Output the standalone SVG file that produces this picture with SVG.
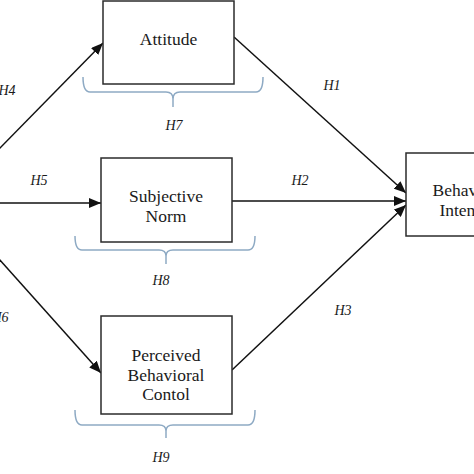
<svg xmlns="http://www.w3.org/2000/svg" width="474" height="474" viewBox="0 0 474 474">
<style>
.box{fill:#fff;stroke:#2b2b2b;stroke-width:1.5}
.nt{font-family:'Liberation Serif','DejaVu Serif',serif;font-size:17.5px;fill:#1a1a1a;text-anchor:middle}
.lb{font-family:'Liberation Serif','DejaVu Serif',serif;font-size:14px;font-style:italic;fill:#1a1a1a;text-anchor:middle}
.ar{fill:none;stroke:#111;stroke-width:1.5;marker-end:url(#ah)}
.br{fill:none;stroke:#8eaac4;stroke-width:1.5}
</style>
<defs>
<marker id="ah" viewBox="0 0 12 10" refX="12" refY="5" markerWidth="12" markerHeight="10" markerUnits="userSpaceOnUse" orient="auto">
<path d="M0,0 L12,5 L0,10 Z" fill="#111"/>
</marker>
</defs>
<rect width="474" height="474" fill="#fff"/>
<g id="connectors">
<line class="ar" x1="-2" y1="150" x2="103" y2="43"/>
<line class="ar" x1="-2" y1="203" x2="101" y2="203"/>
<line class="ar" x1="-2" y1="258" x2="101" y2="373"/>
<line class="ar" x1="234" y1="37" x2="406" y2="193"/>
<line class="ar" x1="232" y1="201" x2="406" y2="201"/>
<line class="ar" x1="232" y1="370" x2="406" y2="205"/>
</g>
<g id="attitude">
<rect class="box" x="103" y="1" width="131" height="83"/>
<text class="nt" font-family="Liberation Serif, serif" x="168.5" y="45">Attitude</text>
</g>
<g id="subjective-norm">
<rect class="box" x="101" y="158" width="131" height="84"/>
<text class="nt" font-family="Liberation Serif, serif" x="166" y="202">Subjective</text>
<text class="nt" font-family="Liberation Serif, serif" x="166" y="222">Norm</text>
</g>
<g id="pbc">
<rect class="box" x="101" y="316" width="131" height="98"/>
<text class="nt" font-family="Liberation Serif, serif" x="166" y="361">Perceived</text>
<text class="nt" font-family="Liberation Serif, serif" x="166" y="381">Behavioral</text>
<text class="nt" font-family="Liberation Serif, serif" x="166" y="400">Contol</text>
</g>
<g id="behavioral-intention">
<rect class="box" x="406" y="153" width="140" height="83"/>
<text class="nt" font-family="Liberation Serif, serif" x="471" y="196">Behavioral</text>
<text class="nt" font-family="Liberation Serif, serif" x="471" y="216">Intention</text>
</g>
<g id="braces">
<path class="br" d="M83,77 Q83,92 90,92 L166,92 Q173,92 173,99 Q173,92 180,92 L256,92 Q263,92 263,77 M173,99 L173,107"/>
<path class="br" d="M75,236 Q75,250 82,250 L159,250 Q166,250 166,256 Q166,250 173,250 L248,250 Q255,250 255,236 M166,256 L166,264"/>
<path class="br" d="M75,410 Q75,425 82,425 L159,425 Q166,425 166,431 Q166,425 173,425 L248,425 Q255,425 255,410 M166,431 L166,438"/>
</g>
<g id="labels">
<text class="lb" font-family="Liberation Serif, serif" x="7" y="95">H4</text>
<text class="lb" font-family="Liberation Serif, serif" x="39" y="185">H5</text>
<text class="lb" font-family="Liberation Serif, serif" x="0" y="322">H6</text>
<text class="lb" font-family="Liberation Serif, serif" x="174" y="130">H7</text>
<text class="lb" font-family="Liberation Serif, serif" x="161" y="285">H8</text>
<text class="lb" font-family="Liberation Serif, serif" x="161" y="462">H9</text>
<text class="lb" font-family="Liberation Serif, serif" x="332" y="90">H1</text>
<text class="lb" font-family="Liberation Serif, serif" x="300" y="185">H2</text>
<text class="lb" font-family="Liberation Serif, serif" x="343" y="315">H3</text>
</g>
</svg>
